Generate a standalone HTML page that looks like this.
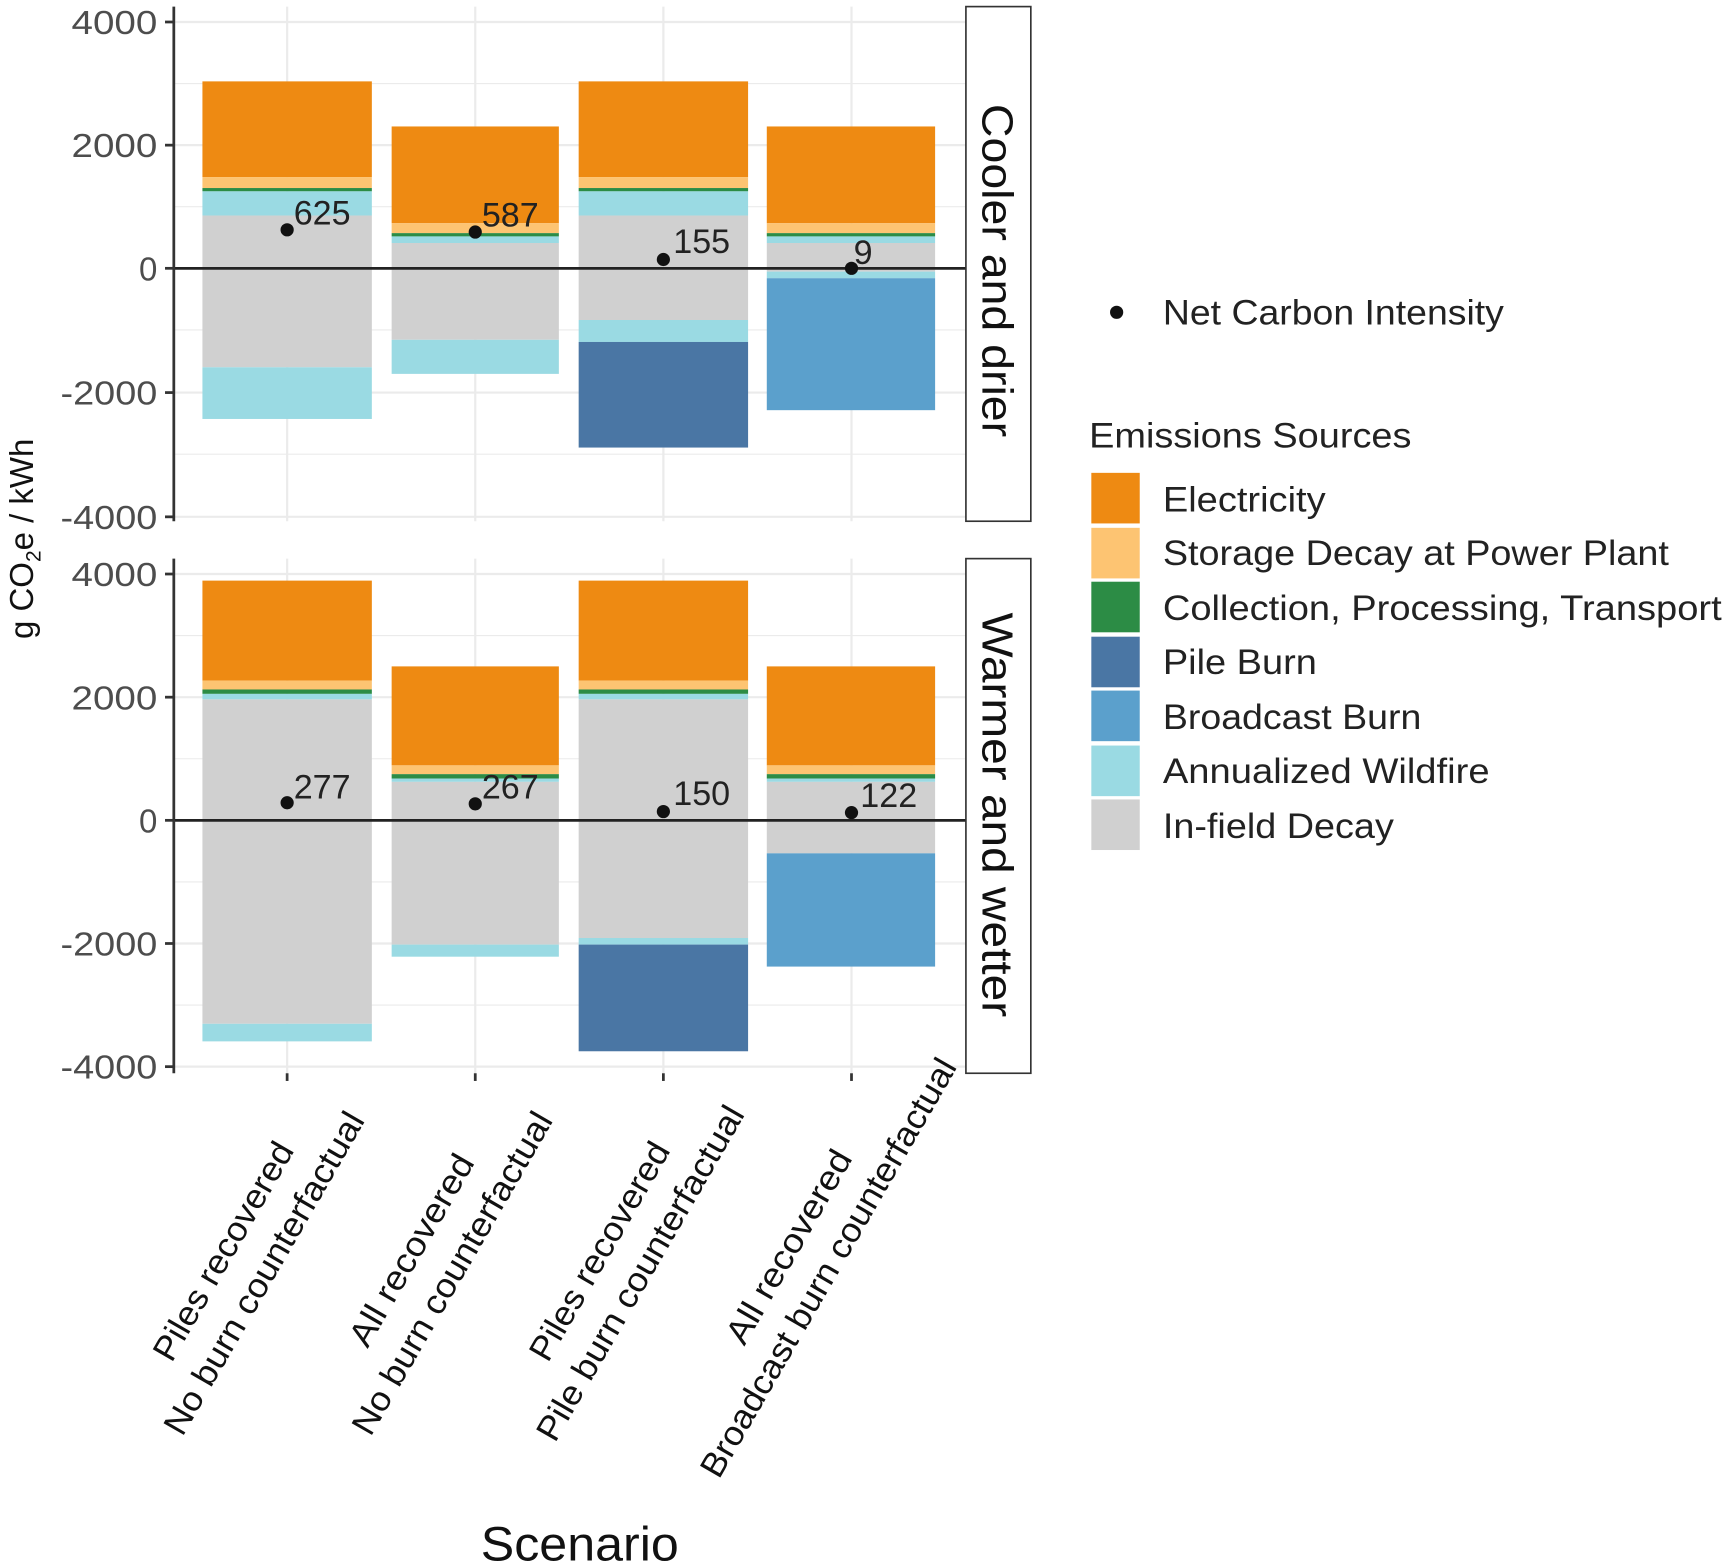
<!DOCTYPE html>
<html><head><meta charset="utf-8"><style>
html,body{margin:0;padding:0;background:#fff;}
svg{display:block;}
text{font-family:"Liberation Sans",sans-serif;}
</style></head><body>
<svg width="1725" height="1567" viewBox="0 0 1568 1425" preserveAspectRatio="none" xmlns="http://www.w3.org/2000/svg">
<g stroke="#EBEBEB" stroke-width="2">
<line x1="158" x2="878" y1="20" y2="20"/><line x1="158" x2="878" y1="132" y2="132"/><line x1="158" x2="878" y1="357" y2="357"/><line x1="158" x2="878" y1="470" y2="470"/>
<line x1="158" x2="878" y1="76" y2="76" stroke-width="1"/><line x1="158" x2="878" y1="188" y2="188" stroke-width="1"/><line x1="158" x2="878" y1="300" y2="300" stroke-width="1"/><line x1="158" x2="878" y1="413" y2="413" stroke-width="1"/>
<line x1="261" x2="261" y1="6" y2="474"/><line x1="432" x2="432" y1="6" y2="474"/><line x1="603" x2="603" y1="6" y2="474"/><line x1="774" x2="774" y1="6" y2="474"/>
<line x1="158" x2="878" y1="522" y2="522"/><line x1="158" x2="878" y1="634" y2="634"/><line x1="158" x2="878" y1="858" y2="858"/><line x1="158" x2="878" y1="970" y2="970"/>
<line x1="158" x2="878" y1="578" y2="578" stroke-width="1"/><line x1="158" x2="878" y1="690" y2="690" stroke-width="1"/><line x1="158" x2="878" y1="802" y2="802" stroke-width="1"/><line x1="158" x2="878" y1="914" y2="914" stroke-width="1"/>
<line x1="261" x2="261" y1="508" y2="976"/><line x1="432" x2="432" y1="508" y2="976"/><line x1="603" x2="603" y1="508" y2="976"/><line x1="774" x2="774" y1="508" y2="976"/>
</g>
<g>
<rect x="184" y="74" width="154" height="87" fill="#EE8A12"/><rect x="184" y="161" width="154" height="10" fill="#FDC472"/><rect x="184" y="171" width="154" height="3" fill="#2C8C45"/><rect x="184" y="174" width="154" height="22" fill="#9ADAE3"/><rect x="184" y="196" width="154" height="138" fill="#D0D0D0"/><rect x="184" y="334" width="154" height="47" fill="#9ADAE3"/>
<rect x="356" y="115" width="152" height="88" fill="#EE8A12"/><rect x="356" y="203" width="152" height="9" fill="#FDC472"/><rect x="356" y="212" width="152" height="3" fill="#2C8C45"/><rect x="356" y="215" width="152" height="6" fill="#9ADAE3"/><rect x="356" y="221" width="152" height="88" fill="#D0D0D0"/><rect x="356" y="309" width="152" height="31" fill="#9ADAE3"/>
<rect x="526" y="74" width="154" height="87" fill="#EE8A12"/><rect x="526" y="161" width="154" height="10" fill="#FDC472"/><rect x="526" y="171" width="154" height="3" fill="#2C8C45"/><rect x="526" y="174" width="154" height="22" fill="#9ADAE3"/><rect x="526" y="196" width="154" height="95" fill="#D0D0D0"/><rect x="526" y="291" width="154" height="20" fill="#9ADAE3"/><rect x="526" y="311" width="154" height="96" fill="#4A76A4"/>
<rect x="697" y="115" width="153" height="88" fill="#EE8A12"/><rect x="697" y="203" width="153" height="9" fill="#FDC472"/><rect x="697" y="212" width="153" height="3" fill="#2C8C45"/><rect x="697" y="215" width="153" height="6" fill="#9ADAE3"/><rect x="697" y="221" width="153" height="26" fill="#D0D0D0"/><rect x="697" y="247" width="153" height="6" fill="#9ADAE3"/><rect x="697" y="253" width="153" height="120" fill="#5BA0CC"/>
</g>
<g>
<rect x="184" y="528" width="154" height="91" fill="#EE8A12"/><rect x="184" y="619" width="154" height="8" fill="#FDC472"/><rect x="184" y="627" width="154" height="4" fill="#2C8C45"/><rect x="184" y="631" width="154" height="5" fill="#9ADAE3"/><rect x="184" y="636" width="154" height="295" fill="#D0D0D0"/><rect x="184" y="931" width="154" height="16" fill="#9ADAE3"/>
<rect x="356" y="606" width="152" height="90" fill="#EE8A12"/><rect x="356" y="696" width="152" height="8" fill="#FDC472"/><rect x="356" y="704" width="152" height="4" fill="#2C8C45"/><rect x="356" y="708" width="152" height="3" fill="#9ADAE3"/><rect x="356" y="711" width="152" height="148" fill="#D0D0D0"/><rect x="356" y="859" width="152" height="11" fill="#9ADAE3"/>
<rect x="526" y="528" width="154" height="91" fill="#EE8A12"/><rect x="526" y="619" width="154" height="8" fill="#FDC472"/><rect x="526" y="627" width="154" height="4" fill="#2C8C45"/><rect x="526" y="631" width="154" height="5" fill="#9ADAE3"/><rect x="526" y="636" width="154" height="217" fill="#D0D0D0"/><rect x="526" y="853" width="154" height="6" fill="#9ADAE3"/><rect x="526" y="859" width="154" height="97" fill="#4A76A4"/>
<rect x="697" y="606" width="153" height="90" fill="#EE8A12"/><rect x="697" y="696" width="153" height="8" fill="#FDC472"/><rect x="697" y="704" width="153" height="4" fill="#2C8C45"/><rect x="697" y="708" width="153" height="3" fill="#9ADAE3"/><rect x="697" y="711" width="153" height="65" fill="#D0D0D0"/><rect x="697" y="776" width="153" height="103" fill="#5BA0CC"/>
</g>
<line x1="158" x2="878" y1="244" y2="244" stroke="#222" stroke-width="2.5"/>
<line x1="158" x2="878" y1="746" y2="746" stroke="#222" stroke-width="2.5"/>
<g stroke="#333" stroke-width="2.5">
<line x1="158" x2="158" y1="6" y2="474"/><line x1="158" x2="158" y1="508" y2="976"/>
<line x1="150" x2="158" y1="20" y2="20"/><line x1="150" x2="158" y1="132" y2="132"/><line x1="150" x2="158" y1="244" y2="244"/><line x1="150" x2="158" y1="357" y2="357"/><line x1="150" x2="158" y1="470" y2="470"/>
<line x1="150" x2="158" y1="522" y2="522"/><line x1="150" x2="158" y1="634" y2="634"/><line x1="150" x2="158" y1="746" y2="746"/><line x1="150" x2="158" y1="858" y2="858"/><line x1="150" x2="158" y1="970" y2="970"/>
<line x1="261" x2="261" y1="976" y2="983"/><line x1="432" x2="432" y1="976" y2="983"/><line x1="603" x2="603" y1="976" y2="983"/><line x1="774" x2="774" y1="976" y2="983"/>
</g>
<g font-size="30" fill="#4D4D4D" text-anchor="end">
<text x="143" y="31" textLength="78" lengthAdjust="spacingAndGlyphs">4000</text><text x="143" y="143" textLength="78" lengthAdjust="spacingAndGlyphs">2000</text><text x="143" y="255">0</text><text x="143" y="368" textLength="88" lengthAdjust="spacingAndGlyphs">-2000</text><text x="143" y="481" textLength="88" lengthAdjust="spacingAndGlyphs">-4000</text>
<text x="143" y="533" textLength="78" lengthAdjust="spacingAndGlyphs">4000</text><text x="143" y="645" textLength="78" lengthAdjust="spacingAndGlyphs">2000</text><text x="143" y="757">0</text><text x="143" y="869" textLength="88" lengthAdjust="spacingAndGlyphs">-2000</text><text x="143" y="981" textLength="88" lengthAdjust="spacingAndGlyphs">-4000</text>
</g>
<g fill="#111">
<circle cx="261" cy="209" r="6"/><circle cx="432" cy="211" r="6"/><circle cx="603" cy="236" r="6"/><circle cx="774" cy="244" r="6"/>
<circle cx="261" cy="730" r="6"/><circle cx="432" cy="731" r="6"/><circle cx="603" cy="738" r="6"/><circle cx="774" cy="739" r="6"/>
</g>
<g font-size="31" fill="#222">
<text x="267" y="204">625</text><text x="438" y="206">587</text><text x="612" y="230">155</text><text x="776" y="240">9</text>
<text x="267" y="726">277</text><text x="438" y="726">267</text><text x="612" y="732">150</text><text x="782" y="734">122</text>
</g>
<rect x="878" y="6" width="59" height="468" fill="#fff" stroke="#333" stroke-width="1.5"/>
<rect x="878" y="508" width="59" height="468" fill="#fff" stroke="#333" stroke-width="1.5"/>
<g font-size="40" fill="#111" text-anchor="middle">
<text transform="translate(893,246) rotate(90)" textLength="303" lengthAdjust="spacingAndGlyphs">Cooler and drier</text>
<text transform="translate(893,741) rotate(90)" textLength="368" lengthAdjust="spacingAndGlyphs">Warmer and wetter</text>
</g>
<g font-size="31" fill="#111" text-anchor="middle">
<text transform="translate(212,1143) rotate(-60)" textLength="224" lengthAdjust="spacingAndGlyphs">Piles recovered</text>
<text transform="translate(249,1163) rotate(-60)" textLength="333" lengthAdjust="spacingAndGlyphs">No burn counterfactual</text>
<text transform="translate(383,1142) rotate(-60)" textLength="196" lengthAdjust="spacingAndGlyphs">All recovered</text>
<text transform="translate(420,1163) rotate(-60)" textLength="333" lengthAdjust="spacingAndGlyphs">No burn counterfactual</text>
<text transform="translate(554,1143) rotate(-60)" textLength="224" lengthAdjust="spacingAndGlyphs">Piles recovered</text>
<text transform="translate(591,1163) rotate(-60)" textLength="346" lengthAdjust="spacingAndGlyphs">Pile burn counterfactual</text>
<text transform="translate(726,1139) rotate(-60)" textLength="198" lengthAdjust="spacingAndGlyphs">All recovered</text>
<text transform="translate(762,1158) rotate(-60)" textLength="434" lengthAdjust="spacingAndGlyphs">Broadcast burn counterfactual</text>
</g>
<text x="527" y="1419" font-size="44" text-anchor="middle" fill="#111" textLength="180" lengthAdjust="spacingAndGlyphs">Scenario</text>
<text transform="translate(30,490) rotate(-90)" font-size="30" text-anchor="middle" fill="#111">g CO<tspan font-size="19" dy="7">2</tspan><tspan dy="-7">e / kWh</tspan></text>
<circle cx="1015" cy="284" r="6" fill="#111"/>
<g font-size="32" fill="#222" lengthAdjust="spacingAndGlyphs">
<text x="1057" y="295" textLength="310" lengthAdjust="spacingAndGlyphs">Net Carbon Intensity</text>
<text x="990" y="407" textLength="293" lengthAdjust="spacingAndGlyphs">Emissions Sources</text>
<text x="1057" y="465" textLength="148" lengthAdjust="spacingAndGlyphs">Electricity</text>
<text x="1057" y="514" textLength="460" lengthAdjust="spacingAndGlyphs">Storage Decay at Power Plant</text>
<text x="1057" y="564" textLength="508" lengthAdjust="spacingAndGlyphs">Collection, Processing, Transport</text>
<text x="1057" y="613" textLength="140" lengthAdjust="spacingAndGlyphs">Pile Burn</text>
<text x="1057" y="663" textLength="235" lengthAdjust="spacingAndGlyphs">Broadcast Burn</text>
<text x="1057" y="712" textLength="297" lengthAdjust="spacingAndGlyphs">Annualized Wildfire</text>
<text x="1057" y="762" textLength="210" lengthAdjust="spacingAndGlyphs">In-field Decay</text>
</g>
<rect x="992" y="430" width="44" height="46" fill="#EE8A12"/>
<rect x="992" y="480" width="44" height="46" fill="#FDC472"/>
<rect x="992" y="529" width="44" height="46" fill="#2C8C45"/>
<rect x="992" y="579" width="44" height="46" fill="#4A76A4"/>
<rect x="992" y="628" width="44" height="46" fill="#5BA0CC"/>
<rect x="992" y="678" width="44" height="46" fill="#9ADAE3"/>
<rect x="992" y="727" width="44" height="46" fill="#D0D0D0"/>
</svg>
</body></html>
